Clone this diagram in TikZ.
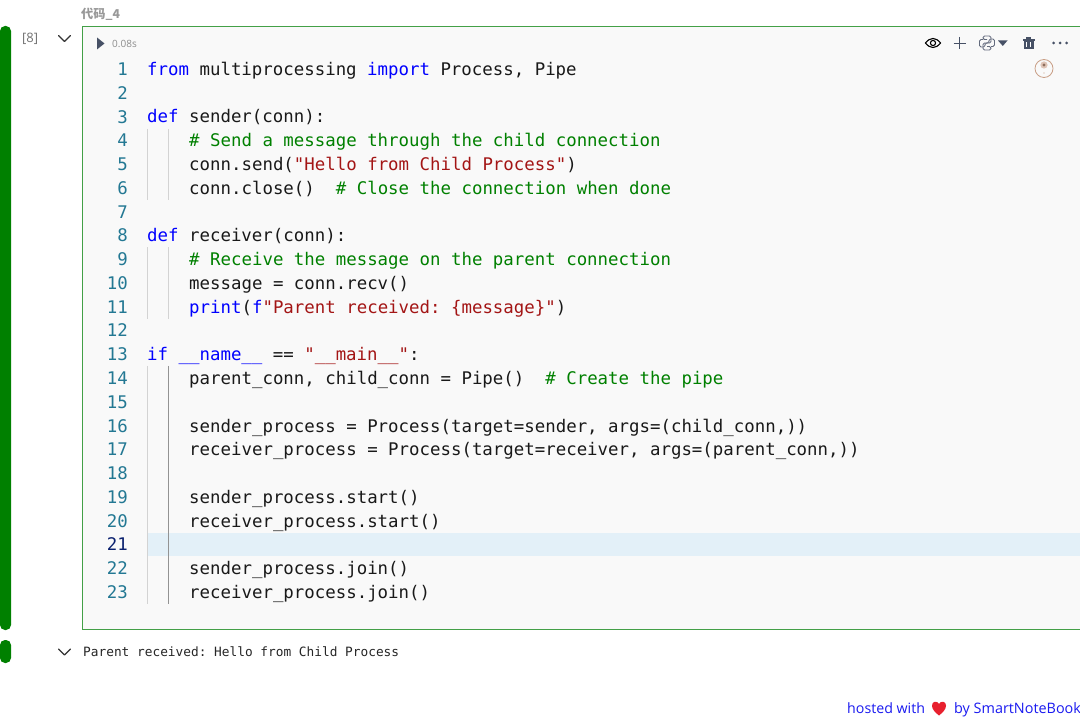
\documentclass[tikz,border=0pt]{standalone}
\usepackage{fontspec}
\setmainfont{Open Sans}
\newfontfamily\codefont{DejaVu Sans Mono}
\newfontfamily\cjkfont{Noto Sans CJK SC}
\definecolor{cellgreen}{HTML}{008000}
\definecolor{cellborder}{HTML}{43A047}
\definecolor{cellback}{HTML}{F9F9F9}
\definecolor{activeline}{HTML}{E3F0F8}
\definecolor{linenum}{HTML}{237893}
\definecolor{linenumactive}{HTML}{0B216F}
\definecolor{kwblue}{HTML}{0000FF}
\definecolor{strred}{HTML}{A31515}
\definecolor{comgreen}{HTML}{008000}
\definecolor{iconslate}{HTML}{475166}
\definecolor{guide}{HTML}{939393}
\definecolor{guidelight}{HTML}{D3D3D3}
\definecolor{badgetan}{HTML}{C99F87}
\definecolor{linkblue}{HTML}{1A1AF0}
\definecolor{heartred}{HTML}{E8202E}
\newcommand{\kw}[1]{\textcolor{kwblue}{#1}}
\newcommand{\str}[1]{\textcolor{strred}{#1}}
\newcommand{\com}[1]{\textcolor{comgreen}{#1}}
\newcommand{\us}{\_}
\tikzset{
	x=1pt, y=-1pt,
	codeline/.style={anchor=base west, inner sep=0pt, font=\codefont\fontsize{17.4}{20}\selectfont, text=black!90},
	lineno/.style={anchor=base east, inner sep=0pt, font=\codefont\fontsize{17.4}{20}\selectfont, text=linenum},
	guideline/.style={draw=guide, line width=0.8pt},
	softguide/.style={draw=guidelight, line width=0.8pt},
	chevron/.style={draw=black!80, line width=1.2pt, line cap=round, line join=round},
	snake/.style={draw=iconslate!85, line width=0.9pt, rounded corners=1.6pt},
	uitext/.style={inner sep=0pt, anchor=base west}
}
\begin{document}
\frenchspacing
\begin{tikzpicture}
	%%%%% frame %%%%%
	\useasboundingbox (0, 0) rectangle (1080, 719);
	\fill[white] (0, 0) rectangle (1080, 719);
	\fill[cellgreen, rounded corners=5pt] (0, 26) rectangle (11, 630);
	\fill[cellgreen, rounded corners=5pt] (0, 640) rectangle (11, 663);
	\draw[cellborder, fill=cellback, line width=1pt] (82.5, 27) rectangle (1085, 629);
	\fill[activeline] (147.5, 533) rectangle (1080, 556);
	
	\node[uitext, font=\cjkfont\bfseries\fontsize{12.2}{13}\selectfont, text=black!40] (cellname) at (81, 19) {代码\_4};
	\node[uitext, font=\fontsize{13}{14}\selectfont, text=black!55] (count) at (22, 43) {[8]};
	\draw[chevron] (58.5, 35.5) -- (64.5, 41.5) -- (70.5, 35.5);
	\draw[chevron] (58.5, 649) -- (64.5, 655) -- (70.5, 649);
	
	%%%%% toolbar %%%%%
	\fill[iconslate] (97, 37.5) -- (104.5, 43.5) -- (97, 49.5) -- cycle;
	\node[uitext, font=\fontsize{10}{12}\selectfont, text=black!45] (timing) at (112, 47.5) {0.08s};
	\draw[black, line width=1.1pt] (925.5, 43) .. controls (930, 37) and (936, 37) .. (940.5, 43) .. controls (936, 49) and (930, 49) .. (925.5, 43) -- cycle;
	\draw[black, line width=1.1pt] (933, 43) circle (2.6);
	\draw[iconslate, line width=0.9pt] (953.5, 43) -- (965.5, 43) (959.5, 37) -- (959.5, 49);
	\draw[snake] (987, 39.5) -- (983, 39.5) -- (983, 36) -- (991, 36) -- (991, 43) -- (985, 43) -- (985, 47) -- (979.5, 47) -- (979.5, 39.5) -- (983, 39.5);
	\draw[snake] (987, 46.5) -- (991, 46.5) -- (991, 50) -- (983, 50) -- (983, 43) -- (989, 43) -- (989, 39) -- (994.5, 39) -- (994.5, 46.5) -- (991, 46.5);
	\fill[iconslate] (998, 40.5) -- (1007.5, 40.5) -- (1002.8, 46) -- cycle;
	\fill[iconslate] (1022.5, 39) rectangle (1034.5, 40.8);
	\fill[iconslate] (1026, 37) rectangle (1031, 39);
	\fill[iconslate] (1023.5, 41) rectangle (1033.5, 49.5);
	\draw[white, line width=0.8pt] (1026.8, 42.5) -- (1026.8, 47.5) (1030.2, 42.5) -- (1030.2, 47.5);
	\foreach \dotx in {1053.5, 1060, 1066.5}
		\fill[iconslate] (\dotx, 43) circle (1.5);
	\draw[badgetan, line width=0.8pt] (1044, 68.5) circle (9);
	\fill[badgetan!60] (1044, 65) circle (3.6);
	\fill[badgetan!70!black] (1044, 65) circle (1.6);
	\fill[badgetan] (1044, 73) circle (0.7);
	
	%%%%% guides %%%%%
	\foreach \ya/\yb in {129/200, 247.5/319}{
		\draw[softguide] (147.5, \ya) -- (147.5, \yb);
		\draw[softguide] (168.5, \ya) -- (168.5, \yb);
	}
	\draw[softguide] (147.5, 366) -- (147.5, 604);
	\draw[guideline] (168.5, 366) -- (168.5, 604);
	
	%%%%% code %%%%%
	\foreach \n in {1,...,23}
		\node[lineno] (num\n) at (128, {75.5+(\n-1)*23.77}) {\ifnum\n=21 \textcolor{linenumactive}{\n}\else\n\fi};
	
	\node[codeline] (line1) at (147, 75.5) {\kw{from} multiprocessing \kw{import} Process, Pipe};
	\node[codeline] (line3) at (147, 123) {\kw{def} sender(conn):};
	\node[codeline] (line4) at (189, 146.8) {\com{\# Send a message through the child connection}};
	\node[codeline] (line5) at (189, 170.6) {conn.send(\str{"Hello from Child Process"})};
	\node[codeline] (line6) at (189, 194.4) {conn.close()\ \ \com{\# Close the connection when done}};
	\node[codeline] (line8) at (147, 241.9) {\kw{def} receiver(conn):};
	\node[codeline] (line9) at (189, 265.7) {\com{\# Receive the message on the parent connection}};
	\node[codeline] (line10) at (189, 289.4) {message = conn.recv()};
	\node[codeline] (line11) at (189, 313.2) {\kw{print}(\kw{f}\str{"Parent received: \{message\}"})};
	\node[codeline] (line13) at (147, 360.8) {\kw{if} \kw{\us\us name\us\us}\ == \str{"\us\us main\us\us"}:};
	\node[codeline] (line14) at (189, 384.5) {parent\us conn, child\us conn = Pipe()\ \ \com{\# Create the pipe}};
	\node[codeline] (line16) at (189, 432.1) {sender\us process = Process(target=sender, args=(child\us conn,))};
	\node[codeline] (line17) at (189, 455.8) {receiver\us process = Process(target=receiver, args=(parent\us conn,))};
	\node[codeline] (line19) at (189, 503.4) {sender\us process.start()};
	\node[codeline] (line20) at (189, 527.2) {receiver\us process.start()};
	\node[codeline] (line22) at (189, 574.7) {sender\us process.join()};
	\node[codeline] (line23) at (189, 598.4) {receiver\us process.join()};
	
	%%%%% output %%%%%
	\node[uitext, font=\codefont\fontsize{12.8}{14}\selectfont, text=black!85] (result) at (83, 656) {Parent received: Hello from Child Process};
	\node[uitext, font=\fontsize{14.2}{18}\selectfont, text=linkblue] (hosted) at (847, 713) {hosted with};
	\fill[heartred] (939, 715.5) .. controls (934.5, 712) and (932, 709) .. (932, 705.5) .. controls (932, 701) and (937.3, 700.5) .. (939, 704) .. controls (940.7, 700.5) and (946, 701) .. (946, 705.5) .. controls (946, 709) and (943.5, 712) .. (939, 715.5) -- cycle;
	\node[uitext, font=\fontsize{14.4}{18}\selectfont, text=linkblue] (smart) at (954, 713) {by SmartNoteBook};
\end{tikzpicture}
\end{document}
